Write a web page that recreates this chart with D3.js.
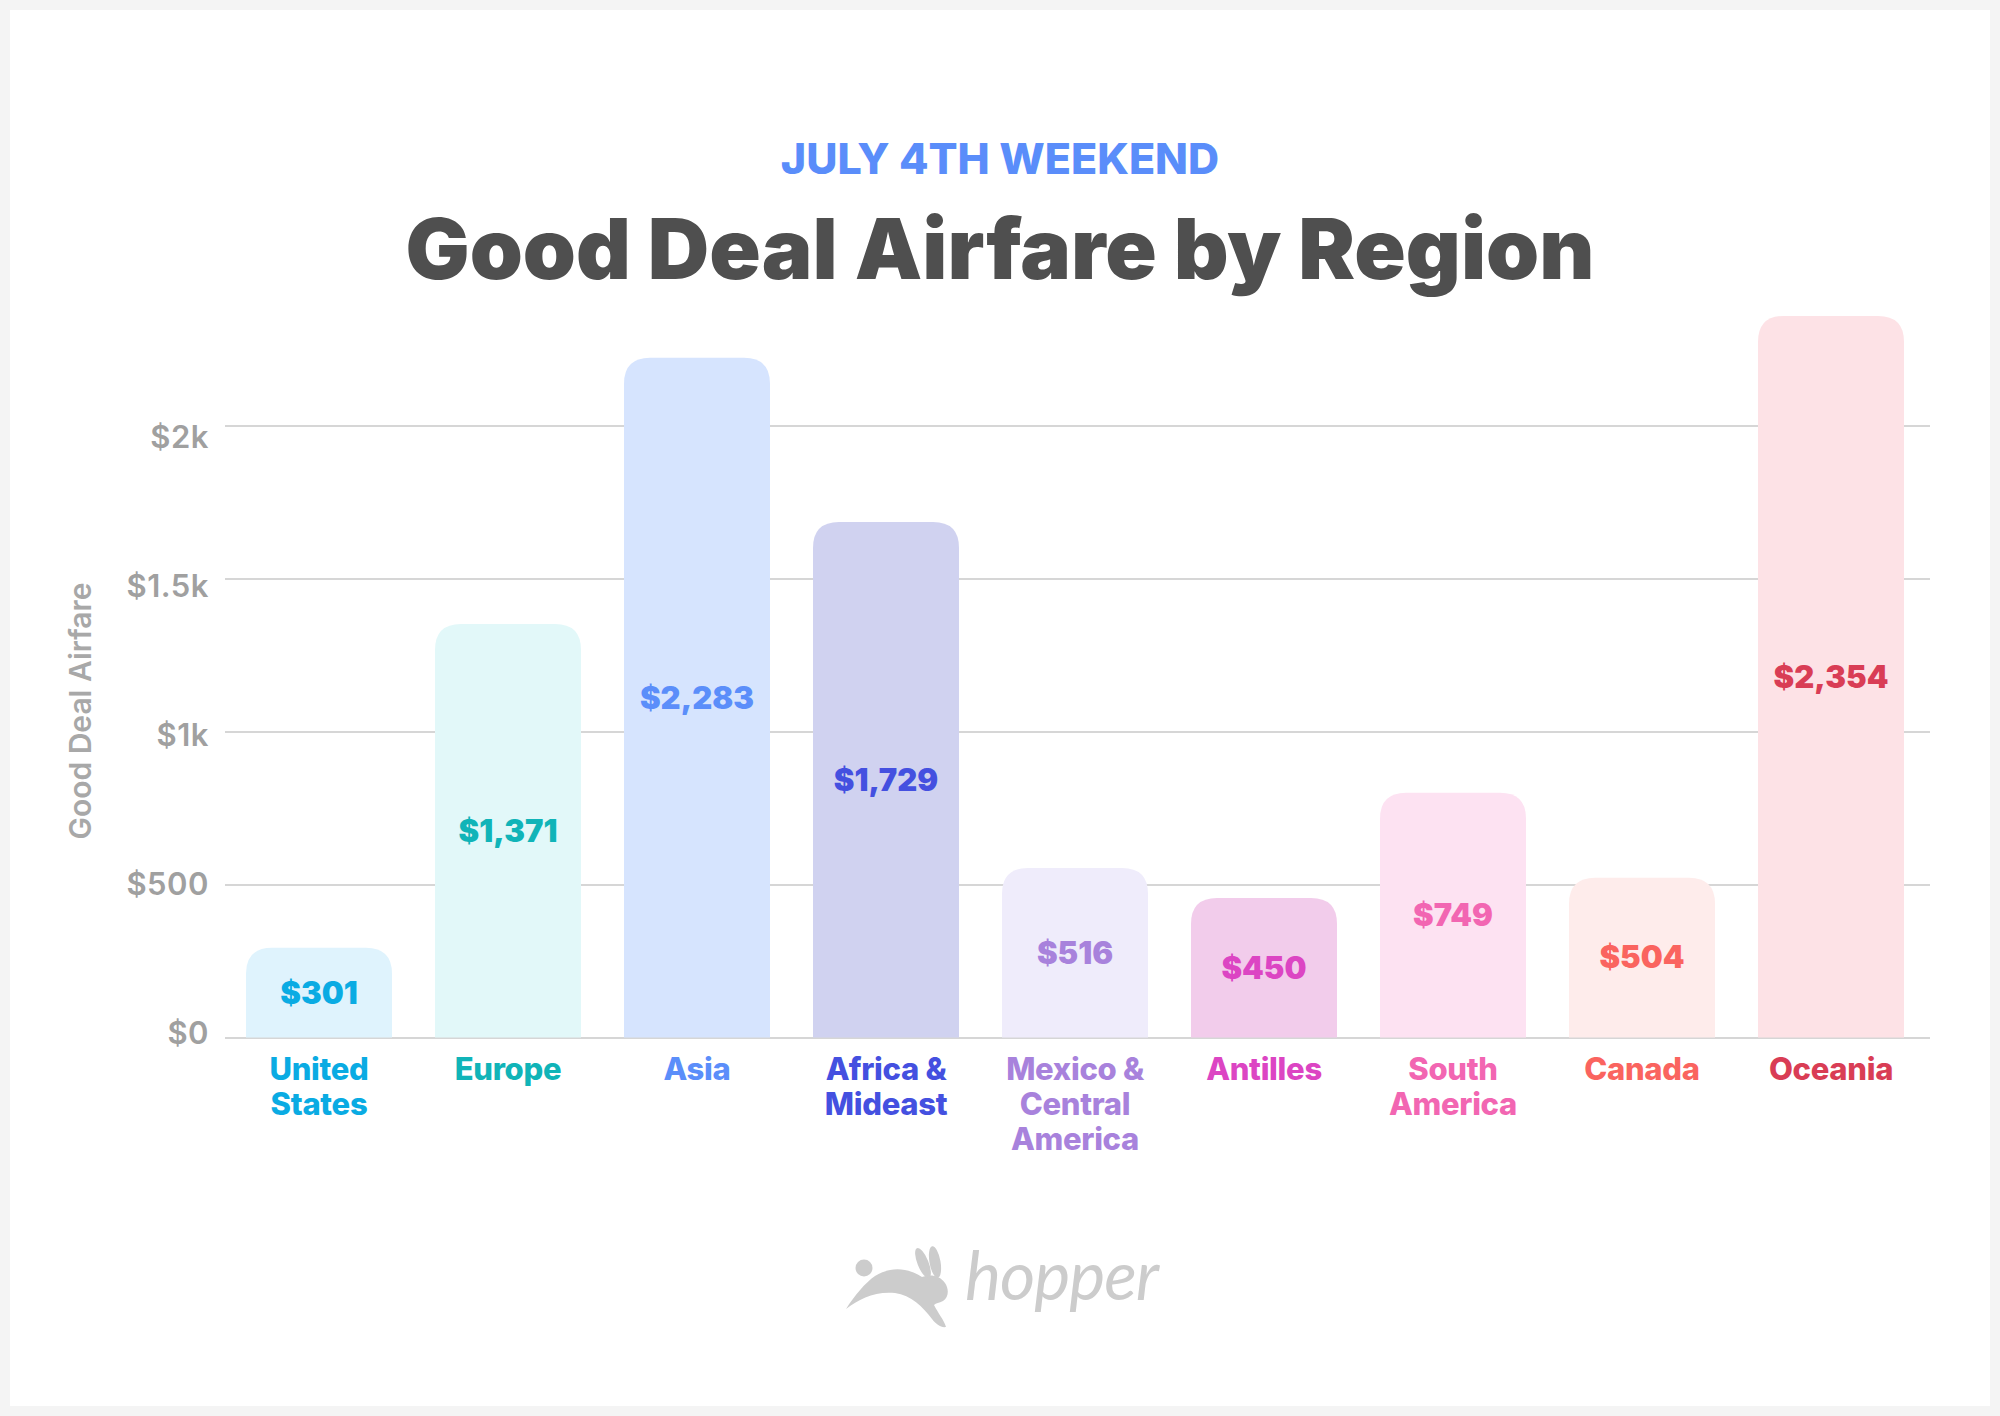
<!DOCTYPE html>
<html><head><meta charset="utf-8">
<script src="https://cdn.jsdelivr.net/npm/d3@7"></script>
<style>html,body{margin:0;padding:0;background:#f4f4f4;} svg{display:block;}</style>
</head><body><svg id="c" width="2000" height="1416"></svg>
<script>
// ---- data ----
const categories = ["United States", "Europe", "Asia", "Africa & Mideast", "Mexico & Central America", "Antilles", "South America", "Canada", "Oceania"];
// bar heights as drawn in the picture
const barValues = [293, 1351, 2221, 1685, 554, 456, 800, 522, 2358];
// values printed on the bars
const fareLabels = [301, 1371, 2283, 1729, 516, 450, 749, 504, 2354];
const yTicks = [0, 500, 1000, 1500, 2000];
const yTickLabels = ["$0", "$500", "$1k", "$1.5k", "$2k"];
const textColors = ["#0aabe3", "#10b4b8", "#5b8efa", "#4450e0", "#a882dc", "#dc45c3", "#f266b2", "#fa645f", "#d93d55"];
const barColors = ["#dff3fd", "#e2f8f9", "#d6e4fe", "#d0d2f0", "#efecfb", "#f2cceb", "#fde2f2", "#feeceb", "#fde2e6"];
const subtitle = "JULY 4TH WEEKEND";
const title = "Good Deal Airfare by Region";
const yTitle = "Good Deal Airfare";

const FONT = "Inter, Lato, 'Open Sans', sans-serif";
const svg = d3.select("#c");

// card
svg.append("rect").attr("x", 0).attr("y", 0).attr("width", 2000).attr("height", 1416).attr("fill", "#f4f4f4");
svg.append("rect").attr("x", 10).attr("y", 10).attr("width", 1980).attr("height", 1396).attr("fill", "#ffffff");

function fitWidth(sel, target, always) {
  const n = sel.node();
  const w = n.getComputedTextLength();
  if (always || Math.abs(w - target) / target > 0.02) {
    sel.attr("textLength", target).attr("lengthAdjust", "spacingAndGlyphs");
  }
}

// titles
const st = svg.append("text").attr("x", 1000).attr("y", 174).attr("text-anchor", "middle")
  .attr("font-family", FONT).attr("font-weight", 800).attr("font-size", 43)
  .attr("fill", "#5a8dfa").text(subtitle);
fitWidth(st, 430);
const tt = svg.append("text").attr("x", 1000).attr("y", 279).attr("text-anchor", "middle")
  .attr("font-family", FONT).attr("font-weight", 900).attr("font-size", 84)
  .attr("fill", "#4f4f4f").text(title);
fitWidth(tt, 1189, true);

// scales
const x = d3.scaleBand().domain(categories).range([225, 1930])
  .paddingInner(0.2275).paddingOuter(0.1243).align(0.447);
const y = d3.scaleLinear().domain([0, 2000]).range([1037.5, 425.5]);
const yLab = d3.scaleLinear().domain([0, 2000]).range([1033, 437]);

// grid + y axis
const ax = svg.append("g").attr("transform", "translate(225,0)")
  .call(d3.axisLeft(y).tickValues(yTicks).tickSize(-1705).tickPadding(16)
    .tickFormat((d, i) => yTickLabels[i]));
ax.select(".domain").remove();
ax.selectAll(".tick line").attr("stroke", "#d6d6d6").attr("stroke-width", 2);
ax.selectAll(".tick text")
  .attr("font-family", FONT).attr("font-weight", 600).attr("font-size", 31)
  .attr("fill", "#a0a0a0").attr("letter-spacing", 0.5)
  .attr("y", d => yLab(d) - y(d)).attr("dy", "0.35em");

// y title
svg.append("text").attr("transform", "translate(80,711) rotate(-90)")
  .attr("text-anchor", "middle").attr("dy", "0.35em")
  .attr("font-family", FONT).attr("font-weight", 600).attr("font-size", 30)
  .attr("fill", "#a8a8a8").text(yTitle);

// bars with rounded top corners
function topRounded(x0, y0, w, h, r) {
  r = Math.min(r, w / 2, h);
  return `M${x0},${y0 + h}V${y0 + r}Q${x0},${y0} ${x0 + r},${y0}H${x0 + w - r}Q${x0 + w},${y0} ${x0 + w},${y0 + r}V${y0 + h}Z`;
}
const rows = categories.map((c, i) => ({c, v: barValues[i], lab: fareLabels[i], tc: textColors[i], bc: barColors[i]}));
svg.append("g").selectAll("path").data(rows).join("path")
  .attr("d", d => topRounded(x(d.c), y(d.v), x.bandwidth(), y(0) - y(d.v), 26))
  .attr("fill", d => d.bc);

// value labels
const fmt = d3.format("$,");
svg.append("g").selectAll("text").data(rows).join("text")
  .attr("x", d => x(d.c) + x.bandwidth() / 2)
  .attr("y", d => (y(d.v) + y(0)) / 2).attr("dy", "0.35em")
  .attr("text-anchor", "middle")
  .attr("font-family", FONT).attr("font-weight", 900).attr("font-size", 31)
  .attr("fill", d => d.tc).text(d => fmt(d.lab));

// category labels (wrapped)
const catG = svg.append("g");
rows.forEach(d => {
  const t = catG.append("text").attr("x", x(d.c) + x.bandwidth() / 2).attr("y", 1080)
    .attr("text-anchor", "middle").attr("font-family", FONT).attr("font-weight", 800)
    .attr("font-size", 31).attr("fill", d.tc).attr("letter-spacing", -0.3);
  const words = d.c.split(" ");
  let lines = [], cur = "";
  const probe = t.append("tspan");
  words.forEach(w => {
    const test = cur ? cur + " " + w : w;
    probe.text(test);
    if (probe.node().getComputedTextLength() > 165 && cur) { lines.push(cur); cur = w; }
    else cur = test;
  });
  lines.push(cur);
  probe.remove();
  lines.forEach((l, i) => t.append("tspan").attr("x", x(d.c) + x.bandwidth() / 2)
    .attr("dy", i === 0 ? 0 : 35).text(l));
});

// hopper logo
const logo = svg.append("g").attr("transform", "translate(845,1247)").attr("fill", "#cccccc");
logo.append("path").attr("d",
  "M1,62 C10,48 20,36 30,29 C44,20 62,20 77,30 C84,27 95,28 100,36 C104,42 104,50 98,54 C94,56 91,56 89,58 C93,66 99,73 101,80 C96,81 91,77 87,72 C78,60 66,48 50,46 C30,44 14,52 1,62 Z");
logo.append("circle").attr("cx", 19).attr("cy", 21).attr("r", 8.5);
logo.append("ellipse").attr("cx", 0).attr("cy", 0).attr("rx", 5.5).attr("ry", 16)
  .attr("transform", "translate(78,16) rotate(-22)");
logo.append("ellipse").attr("cx", 0).attr("cy", 0).attr("rx", 5.5).attr("ry", 16)
  .attr("transform", "translate(90,15) rotate(-10)");
const hop = svg.append("text").attr("x", 965).attr("y", 1300)
  .attr("font-family", "Lato, 'Open Sans', sans-serif").attr("font-style", "italic").attr("font-weight", 400)
  .attr("font-size", 68).attr("fill", "#cccccc").attr("letter-spacing", -1).text("hopper");
fitWidth(hop, 190);
</script></body></html>
